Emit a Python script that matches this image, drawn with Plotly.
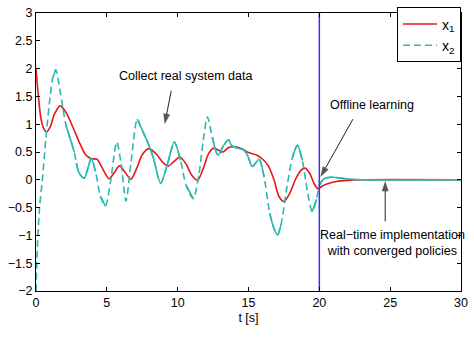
import plotly.graph_objects as go

# x1 (red, solid)
t1 = [0, 0.15, 0.35, 0.55, 0.75, 1.0, 1.3, 1.7, 2.1, 2.6, 3.1, 3.5, 3.9, 4.3, 4.7, 5.15, 5.5, 5.9,
      6.3, 6.7, 7.1, 7.5, 7.95, 8.5, 9.0, 9.35, 9.75, 10.15, 10.6, 11.0, 11.4, 11.8, 12.2, 12.55,
      12.9, 13.2, 13.6, 14.2, 14.6, 15.0, 15.6, 16.0, 16.4, 16.8, 17.15, 17.5, 17.9, 18.3, 18.7,
      19.0, 19.35, 19.65, 19.9, 20.0, 20.3, 20.7, 21.2, 22.0, 23.0, 30.0]
x1 = [2.0, 1.55, 1.1, 0.92, 0.86, 0.95, 1.18, 1.33, 1.22, 0.95, 0.65, 0.45, 0.38, 0.37, 0.2, 0.02,
      0.12, 0.25, 0.13, 0.01, 0.2, 0.45, 0.56, 0.46, 0.3, 0.25, 0.33, 0.41, 0.28, 0.08, -0.01, 0.2,
      0.48, 0.57, 0.53, 0.5, 0.58, 0.59, 0.55, 0.49, 0.44, 0.37, 0.25, 0.0, -0.3, -0.39, -0.25, 0.0,
      0.17, 0.21, 0.1, -0.08, -0.16, -0.15, -0.1, -0.06, -0.03, -0.01, 0.0, 0.0]

# x2 (cyan, dashed)
t2 = [0, 0.1, 0.25, 0.45, 0.7, 1.0, 1.2, 1.4, 1.6, 1.9, 2.1, 2.4, 2.7, 2.85, 3.05, 3.4, 3.65, 3.9,
      4.2, 4.55, 4.9, 5.25, 5.7, 6.0, 6.35, 6.7, 7.15, 7.4, 7.7, 8.0, 8.3, 8.8, 9.3, 9.76, 10.2,
      10.6, 11.1, 11.5, 11.8, 12.1, 12.45, 12.85, 13.25, 13.6, 13.8, 14.2, 14.7, 15.0, 15.25, 15.5,
      15.75, 16.1, 16.5, 16.8, 17.05, 17.3, 17.7, 18.1, 18.45, 18.8, 19.15, 19.5, 19.8, 20.0, 20.3,
      20.6, 21.0, 21.5, 22.0, 22.6, 23.0, 30.0]
x2 = [-2.0, -1.2, -0.5, 0.0, 0.75, 1.5, 1.85, 1.98, 1.75, 1.29, 1.0, 0.75, 0.5, 0.3, 0.12, 0.03,
      0.2, 0.38, 0.15, -0.3, -0.47, -0.05, 0.68, 0.3, -0.38, 0.3, 1.09, 0.95, 0.78, 0.6, 0.38,
      -0.06, 0.3, 0.68, 0.35, -0.1, -0.34, 0.1, 0.7, 1.13, 0.76, 0.44, 0.62, 0.72, 0.62, 0.57,
      0.53, 0.4, 0.24, 0.3, 0.37, 0.05, -0.6, -0.88, -0.99, -0.8, -0.15, 0.4, 0.62, 0.35, -0.2,
      -0.57, -0.35, -0.1, 0.01, 0.04, 0.045, 0.03, 0.015, 0.005, 0.0, 0.0]

# switching instant (blue vertical line)
switch_t = [20, 20]
switch_y = [-2, 3]

# annotation arrows: (tail_t, tail_y) -> (head_t, head_y)
arrow_tail_t = [9.55, 22.37, 24.65]
arrow_tail_y = [1.6, 1.09, -0.75]
arrow_head_t = [9.08, 20.08, 24.65]
arrow_head_y = [1.0, 0.05, -0.02]

labels = ["Collect real system data", "Offline learning",
          "Real\u2212time implementation<br>with converged policies"]
label_t = [10.52, 23.7, 25.15]
label_y = [1.86, 1.35, -1.13]

RED = "#e3191c"
CYAN = "#2bb8b0"
FONT = "Liberation Sans, Arial, sans-serif"
LW = 1.6

fig = go.Figure()
fig.add_trace(go.Scatter(x=t1, y=x1, mode="lines", name="x<sub>1</sub>",
                         line=dict(color=RED, width=LW, shape="spline", smoothing=0.8)))
fig.add_trace(go.Scatter(x=t2, y=x2, mode="lines", name="x<sub>2</sub>",
                         line=dict(color=CYAN, width=LW, dash="7px,4px", shape="spline", smoothing=0.8)))

# MATLAB-style rendering: dashes only visible on steep stretches, shallow stretches look solid
STEEP = 1.0
shallow = [abs((x2[i + 1] - x2[i]) / (t2[i + 1] - t2[i])) <= STEEP for i in range(len(t2) - 1)]
i = 0
while i < len(shallow):
    if shallow[i]:
        j = i
        while j + 1 < len(shallow) and shallow[j + 1]:
            j += 1
        fig.add_trace(go.Scatter(x=t2[i:j + 2], y=x2[i:j + 2], mode="lines", showlegend=False,
                                 hoverinfo="skip",
                                 line=dict(color=CYAN, width=LW, shape="spline", smoothing=0.8)))
        i = j + 1
    else:
        i += 1

fig.add_trace(go.Scatter(x=switch_t, y=switch_y, mode="lines", showlegend=False,
                         line=dict(color="#3535f0", width=1.5)))

for k in range(len(arrow_tail_t)):
    fig.add_trace(go.Scatter(
        x=[arrow_tail_t[k], arrow_head_t[k]], y=[arrow_tail_y[k], arrow_head_y[k]],
        mode="lines+markers", showlegend=False, hoverinfo="skip",
        line=dict(color="#222", width=1),
        marker=dict(symbol="arrow", size=[0, 11], angleref="previous", color="#111",
                    line=dict(width=0))))

for k in range(len(labels)):
    fig.add_annotation(x=label_t[k], y=label_y[k], text=labels[k], showarrow=False,
                       xref="x", yref="y", font=dict(family=FONT, size=12.5, color="black"))

axis_common = dict(showgrid=False, zeroline=False, showline=True, linecolor="black", linewidth=1,
                   mirror="ticks", ticks="inside", ticklen=4, tickcolor="black",
                   tickfont=dict(family=FONT, size=12.5, color="black"))
fig.update_xaxes(range=[0, 30], tickvals=[0, 5, 10, 15, 20, 25, 30],
                 title=dict(text="t [s]", font=dict(family=FONT, size=12.5, color="black"), standoff=4),
                 **axis_common)
fig.update_yaxes(range=[-2, 3], tickvals=[-2, -1.5, -1, -0.5, 0, 0.5, 1, 1.5, 2, 2.5, 3],
                 ticktext=["\u22122", "\u22121.5", "\u22121", "\u22120.5", "0", "0.5", "1", "1.5", "2", "2.5", "3"],
                 **axis_common)

fig.update_layout(
    width=474, height=351,
    margin=dict(l=36, r=8, t=6, b=60),
    plot_bgcolor="white", paper_bgcolor="white",
    font=dict(family=FONT, size=12.5, color="black"),
    showlegend=True,
    legend=dict(x=1, y=1.02, xanchor="right", yanchor="top", bgcolor="white",
                bordercolor="black", borderwidth=1, font=dict(family=FONT, size=14),
                itemwidth=34, tracegroupgap=0),
)

fig.write_html("out.html")
